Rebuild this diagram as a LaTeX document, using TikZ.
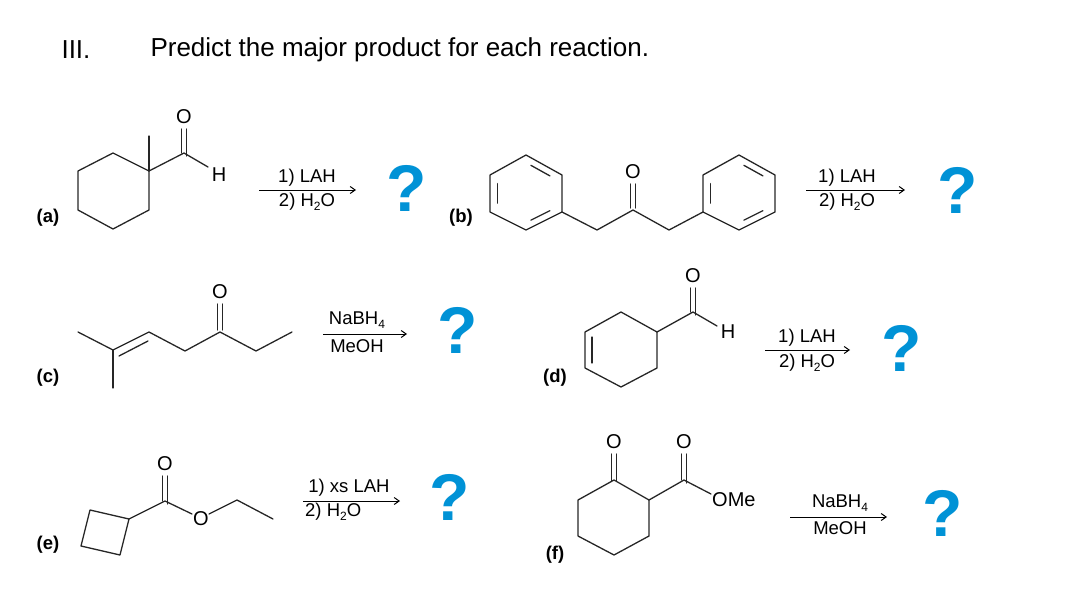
\documentclass[tikz,border=0pt]{standalone}
\usepackage{fontspec}
\setmainfont{Liberation Sans}
\usetikzlibrary{calc,arrows.meta}
\newcommand{\innerb}[3]{\draw[bond] ($($(#1)!.17!(#2)$)!.2!(#3)$) -- ($($(#2)!.17!(#1)$)!.2!(#3)$);}
\newcommand{\sbs}[1]{\raisebox{-0.35ex}{\fontsize{12}{12}\selectfont #1}}
\begin{document}
\begin{tikzpicture}[x=1pt,y=-1pt,
  bond/.style={line width=1.3pt,line cap=round,line join=round,black!85},
  atom/.style={font=\fontsize{20}{20}\selectfont,inner sep=0pt},
  reag/.style={font=\fontsize{18.5}{19}\selectfont,inner sep=0pt},
  lab/.style={font=\bfseries\fontsize{18.5}{19}\selectfont,inner sep=0pt},
  qm/.style={font=\bfseries\fontsize{66}{66}\selectfont,text={rgb,255:red,0;green,146;blue,214},inner sep=0pt},
  arr/.style={line width=1pt,-{Straight Barb[length=5pt,width=7pt]}}]
\useasboundingbox (0,0) rectangle (1067,594);
\node[font=\fontsize{26}{26}\selectfont,anchor=west] (t1) at (58,50) {III.};
\node[font=\fontsize{26}{26}\selectfont,anchor=west] (t2) at (147,50) {Predict the major product for each reaction.};
% ---------- (a)
\node[lab] (la) at (48,218) {(a)};
\coordinate (a1) at (113,153); \coordinate (a2) at (149,171); \coordinate (a3) at (149,210);
\coordinate (a4) at (113,229); \coordinate (a5) at (78,210); \coordinate (a6) at (78,171);
\draw[bond] (a1)--(a2)--(a3)--(a4)--(a5)--(a6)--cycle;
\draw[bond] (a2)--(149,136);
\coordinate (ac) at (184,153);
\draw[bond] (a2)--(ac)--(208,167);
\draw[bond] (181.5,153)--(181.5,129) (186.5,156)--(186.5,129);
\node[atom] (aO) at (184,117) {O};
\node[atom] (aH) at (219,175) {H};
\draw[arr] (259,190) -- (356,190);
\node[reag] (ar1) at (307,178) {1) LAH};
\node[reag] (ar2) at (307,202) {2) H\sbs{2}O};
\node[qm] (aq) at (407,188) {?};
% ---------- (b)
\node[lab] (lb) at (461,218) {(b)};
\coordinate (b1) at (526,155); \coordinate (b2) at (562,175); \coordinate (b3) at (562,212);
\coordinate (b4) at (526,230); \coordinate (b5) at (490,212); \coordinate (b6) at (490,175);
\coordinate (bc) at (526,193);
\draw[bond] (b1)--(b2)--(b3)--(b4)--(b5)--(b6)--cycle;
\innerb{b1}{b2}{bc}\innerb{b3}{b4}{bc}\innerb{b5}{b6}{bc}
\coordinate (bm1) at (597,230); \coordinate (bk) at (633,210); \coordinate (bm2) at (669,230);
\draw[bond] (b3)--(bm1)--(bk)--(bm2)--(703,212);
\draw[bond] (630.5,208)--(630.5,184) (635.5,208)--(635.5,184);
\node[atom] (bO) at (633,172) {O};
\coordinate (d1) at (739,155); \coordinate (d2) at (775,175); \coordinate (d3) at (775,212);
\coordinate (d4) at (739,230); \coordinate (d5) at (703,212); \coordinate (d6) at (703,175);
\coordinate (dc) at (739,193);
\draw[bond] (d1)--(d2)--(d3)--(d4)--(d5)--(d6)--cycle;
\innerb{d1}{d2}{dc}\innerb{d3}{d4}{dc}\innerb{d5}{d6}{dc}
\draw[arr] (806,190) -- (905,190);
\node[reag] (br1) at (847,178) {1) LAH};
\node[reag] (br2) at (847,202) {2) H\sbs{2}O};
\node[qm] (bq) at (958,190) {?};
% ---------- (c)
\node[lab] (lc) at (48,378) {(c)};
\coordinate (c1) at (78,332); \coordinate (c2) at (113,350); \coordinate (c3) at (149,332);
\coordinate (c4) at (185,351); \coordinate (c5) at (220,332); \coordinate (c6) at (256,351);
\coordinate (c7) at (292,332);
\draw[bond] (c1)--(c2)--(c3)--(c4)--(c5)--(c6)--(c7);
\draw[bond] (c2)--(113,388);
\draw[bond] (119,356)--(148,341);
\draw[bond] (217.5,330)--(217.5,304) (222.5,330)--(222.5,304);
\node[atom] (cO) at (220,292) {O};
\draw[arr] (323,334) -- (407,334);
\node[reag] (cr1) at (357,320) {NaBH\sbs{4}};
\node[reag] (cr2) at (357,346) {MeOH};
\node[qm] (cq) at (458,330) {?};
% ---------- (d)
\node[lab] (ld) at (555,378) {(d)};
\coordinate (e1) at (621,312); \coordinate (e2) at (657,332); \coordinate (e3) at (657,368);
\coordinate (e4) at (621,387); \coordinate (e5) at (585,368); \coordinate (e6) at (585,332);
\draw[bond] (e1)--(e2)--(e3)--(e4)--(e5)--(e6)--cycle;
\draw[bond] (592,337)--(592,363);
\coordinate (ek) at (693,312);
\draw[bond] (e2)--(ek)--(717,326);
\draw[bond] (690.5,312)--(690.5,288) (695.5,315)--(695.5,288);
\node[atom] (eO) at (693,276) {O};
\node[atom] (eH) at (728,332) {H};
\draw[arr] (765,350) -- (850,350);
\node[reag] (dr1) at (807,338) {1) LAH};
\node[reag] (dr2) at (807,363) {2) H\sbs{2}O};
\node[qm] (dq) at (902,348) {?};
% ---------- (e)
\node[lab] (le) at (48,545) {(e)};
\coordinate (f1) at (90,510); \coordinate (f2) at (129,519); \coordinate (f3) at (120,555); \coordinate (f4) at (81,546);
\draw[bond] (f1)--(f2)--(f3)--(f4)--cycle;
\coordinate (fk) at (165,501);
\draw[bond] (f2)--(fk)--(192,514);
\draw[bond] (162.5,501)--(162.5,476) (167.5,504)--(167.5,476);
\node[atom] (fO) at (165,464) {O};
\node[atom] (fO2) at (201,519) {O};
\draw[bond] (209,514)--(237,500)--(273,519);
\draw[arr] (303,501) -- (400,501);
\node[reag] (er1) at (349,488) {1) xs LAH};
\node[reag,anchor=west] (er2) at (305,512) {2) H\sbs{2}O};
\node[qm] (eq) at (450,497) {?};
% ---------- (f)
\node[lab] (lf) at (555,555) {(f)};
\coordinate (g1) at (614,480); \coordinate (g2) at (649,500); \coordinate (g3) at (649,536);
\coordinate (g4) at (614,555); \coordinate (g5) at (578,536); \coordinate (g6) at (578,500);
\draw[bond] (g1)--(g2)--(g3)--(g4)--(g5)--(g6)--cycle;
\draw[bond] (611.5,481)--(611.5,454) (616.5,481)--(616.5,454);
\node[atom] (gO) at (614,442) {O};
\coordinate (gk) at (684,480);
\draw[bond] (g2)--(gk)--(711,494);
\draw[bond] (681.5,480)--(681.5,454) (686.5,483)--(686.5,454);
\node[atom] (gO2) at (684,442) {O};
\node[atom,anchor=west] (gOMe) at (712,500) {OMe};
\draw[arr] (790,517) -- (887,517);
\node[reag] (fr1) at (840,503) {NaBH\sbs{4}};
\node[reag] (fr2) at (840,528) {MeOH};
\node[qm] (fq) at (943,513) {?};
\end{tikzpicture}
\end{document}
